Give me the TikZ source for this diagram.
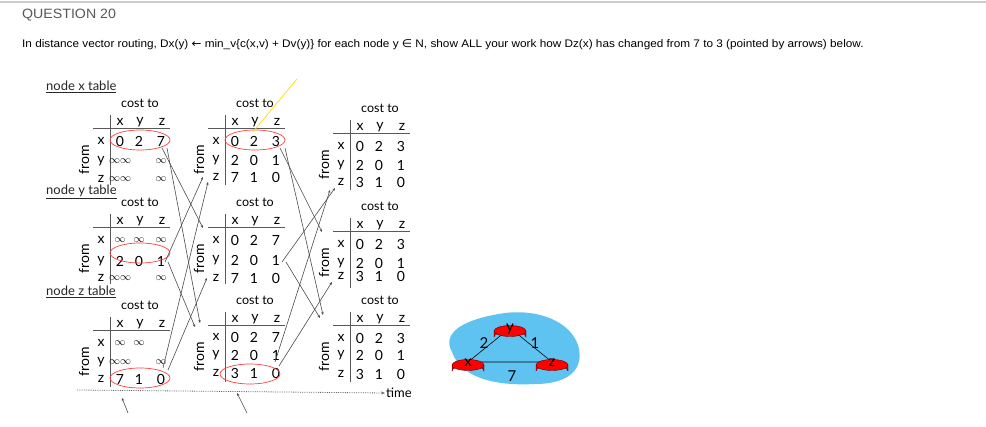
\documentclass[tikz,border=0pt]{standalone}
\usepackage{fontspec}
\setmainfont{Liberation Sans}
\newfontfamily\gill{Lato}
\newfontfamily\dvs{DejaVu Sans}
\usetikzlibrary{arrows.meta}
\definecolor{cloud}{RGB}{95,195,242}
\tikzset{
  cell/.style={font=\gill\fontsize{14}{14}\selectfont, inner sep=0pt},
  inf/.style={font=\fontsize{10.5}{10.5}\selectfont, inner sep=0pt},
  hdr/.style={font=\gill\fontsize{12.5}{12.5}\selectfont, inner sep=0pt},
  rule/.style={draw=black!65, line width=0.7pt},
  msg/.style={draw=black!70, line width=0.6pt, -{Stealth[length=3pt,width=2.5pt]}},
  redell/.style={draw=red!75, line width=0.7pt},
  lbl/.style={font=\gill\fontsize{13}{13}\selectfont, inner sep=1pt, text=black!85},
  router/.style={font=\gill\fontsize{15}{15}\selectfont, inner sep=0pt},
}
\newcommand{\I}{$\infty$}
% #1 name, #2 ox, #3 oy, #4 rows
\newcommand{\dvtab}[4]{%
  \node[hdr] (#1c) at (#2+140,#3) {cost to};
  \node[cell] (#1hx) at (#2+120,#3+19) {x};
  \node[cell] (#1hy) at (#2+140,#3+19) {y};
  \node[cell] (#1hz) at (#2+162,#3+19) {z};
  \draw[rule] (#2+93,#3+25) -- (#2+170,#3+25);
  \draw[rule] (#2+110,#3+12) -- (#2+110,#3+82);
  \node[cell, rotate=90] (#1f) at (#2+84,#3+57) {from};
  \foreach \lab/\a/\b/\c/\dy [count=\i] in {#4} {
    \node[cell] (#1r\i) at (#2+101,#3+\dy) {\lab};
    \node[cell] (#1a\i) at (#2+120,#3+\dy) {\a};
    \node[cell] (#1b\i) at (#2+139,#3+\dy) {\b};
    \node[cell] (#1d\i) at (#2+161,#3+\dy) {\c};
  }
}
\begin{document}
\begin{tikzpicture}[x=1pt,y=-1pt]
\useasboundingbox (0,0) rectangle (986,427);
\fill[white] (0,0) rectangle (986,427);
\draw[black!20, line width=2pt] (0,2) -- (986,2);
\node[anchor=west, inner sep=0pt, text=black!65] (title) at (22,15)
  {\scalebox{1.05}[1]{\fontsize{13.5}{13.5}\selectfont QUESTION 20}};
\node[anchor=west, inner sep=0pt] (question) at (22,45)
  {\scalebox{1.07}[1]{\fontsize{11}{11}\selectfont In distance vector routing, Dx(y) {\dvs←} min\_v\{c(x,v) + Dv(y)\} for each node y {\dvs∈} N, show ALL your work how Dz(x) has changed from 7 to 3 (pointed by arrows) below.}};

% labels
\node[lbl, anchor=west] (lx) at (45,87) {\underline{node x table}};
\node[lbl, anchor=west] (ly) at (45,192) {\underline{node y table}};
\node[lbl, anchor=west] (lz) at (45,292) {\underline{node z table}};

% column 1
\dvtab{xa}{0}{103}{x/0/2/7/38, y/{\tikz\node[inf,xshift=4pt]{\I\I};}/{}/{\tikz\node[inf]{\I};}/58, z/{\tikz\node[inf,xshift=4pt]{\I\I};}/{}/{\tikz\node[inf]{\I};}/76}
\dvtab{ya}{0}{202}{x/{\tikz\node[inf]{\I};}/{\tikz\node[inf]{\I};}/{\tikz\node[inf]{\I};}/38, y/2/0/1/59, z/{\tikz\node[inf,xshift=4pt]{\I\I};}/{}/{\tikz\node[inf]{\I};}/76}
\dvtab{za}{0}{305}{x/{\tikz\node[inf]{\I};}/{\tikz\node[inf]{\I};}/{}/38, y/{\tikz\node[inf,xshift=4pt]{\I\I};}/{}/{\tikz\node[inf]{\I};}/57, z/7/1/0/74}
% column 2
\dvtab{xb}{115}{103}{x/0/2/3/38, y/2/0/1/57, z/7/1/0/74}
\dvtab{yb}{115}{202}{x/0/2/7/38, y/2/0/1/58, z/7/1/0/76}
\dvtab{zb}{115}{300}{x/0/2/7/37, y/2/0/1/55, z/3/1/0/73}
% column 3
\dvtab{xc}{240}{108}{x/0/2/3/38, y/2/0/1/57, z/3/1/0/74}
\dvtab{yc}{240}{206}{x/0/2/3/38, y/2/0/1/57, z/3/1/0/70}
\dvtab{zc}{240}{300}{x/0/2/3/38, y/2/0/1/55, z/3/1/0/74}

% red ellipses
\draw[redell] (140,140) ellipse (30 and 10);
\draw[redell] (255,140) ellipse (30 and 10);
\draw[redell] (140,253) ellipse (30 and 10);
\draw[redell] (140,378) ellipse (30 and 10);
\draw[redell] (250,374) ellipse (30 and 10);
% yellow pointer
\coordinate (ys) at (297,79);
\coordinate (ye) at (253,132);
\draw[yellow!80!orange, line width=0.7pt] (ys) -- (ye);

% messages col1 -> col2
\coordinate (s1) at (162,148); \coordinate (s2) at (167,148);
\coordinate (s3) at (165,262); \coordinate (s4) at (168,262);
\coordinate (s5) at (163,368); \coordinate (s6) at (168,370);
\coordinate (e1) at (203,228); \coordinate (e2) at (200,323);
\coordinate (e3) at (203,177); \coordinate (e4) at (195,327);
\coordinate (e5) at (208,182); \coordinate (e6) at (207,278);
\draw[msg] (s1) -- (e1);
\draw[msg] (s2) -- (e2);
\draw[msg] (s3) -- (e3);
\draw[msg] (s4) -- (e4);
\draw[msg] (s5) -- (e5);
\draw[msg] (s6) -- (e6);
% messages col2 -> col3
\coordinate (t1) at (280,148); \coordinate (t2) at (285,148);
\coordinate (t3) at (282,262); \coordinate (t4) at (286,262);
\coordinate (t5) at (275,362); \coordinate (t6) at (279,366);
\coordinate (f1) at (322,232); \coordinate (f2) at (323,315);
\coordinate (f3) at (335,188); \coordinate (f4) at (320,318);
\coordinate (f5) at (330,190); \coordinate (f6) at (332,282);
\draw[msg] (t1) -- (f1);
\draw[msg] (t2) -- (f2);
\draw[msg] (t3) -- (f3);
\draw[msg] (t4) -- (f4);
\draw[msg] (t5) -- (f5);
\draw[msg] (t6) -- (f6);

% time axis
\coordinate (ta) at (77,390);
\node[font=\gill\fontsize{13}{13}\selectfont, anchor=west, inner sep=1pt] (time) at (385,393) {time};
\draw[black!60, densely dotted, line width=0.8pt, -{Stealth[length=4pt,width=3pt]}] (ta) -- (time.west);

% bottom pointer arrows
\coordinate (p1s) at (128,413); \coordinate (p1e) at (122,398);
\coordinate (p2s) at (247,413); \coordinate (p2e) at (237,393);
\draw[msg] (p1s) -- (p1e);
\draw[msg] (p2s) -- (p2e);

% network
\fill[cloud] (452,352) .. controls (440,330) and (470,318) .. (505,313)
  .. controls (540,309) and (570,322) .. (578,345) .. controls (585,368) and (570,384) .. (535,384)
  .. controls (500,386) and (462,380) .. (452,352) -- cycle;
\node[router] (ry) at (510,328) {};
\node[router] (rx) at (468,362) {};
\node[router] (rz) at (552,362) {};
\draw[black, line width=0.6pt] (rx) -- (ry) -- (rz) -- (rx);
\foreach \n in {ry,rx,rz}{
  \fill[red!85!black, draw=red!40!black, line width=0.4pt] ([xshift=-16pt,yshift=-3pt]\n.center) -- ++(0,6) arc[start angle=180,end angle=360,x radius=16,y radius=5.5] -- ++(0,-6) -- cycle;
  \fill[red, draw=red!40!black, line width=0.4pt] ([yshift=-3pt]\n.center) ellipse (16 and 5.5);
}
\node[router] (lyy) at (510,329) {y};
\node[router] (lxx) at (468,363) {x};
\node[router] (lzz) at (552,363) {z};
\node[router] (w2) at (484,343) {2};
\node[router] (w1) at (535,343) {1};
\node[router] (w7) at (512,376) {7};
\end{tikzpicture}
\end{document}
